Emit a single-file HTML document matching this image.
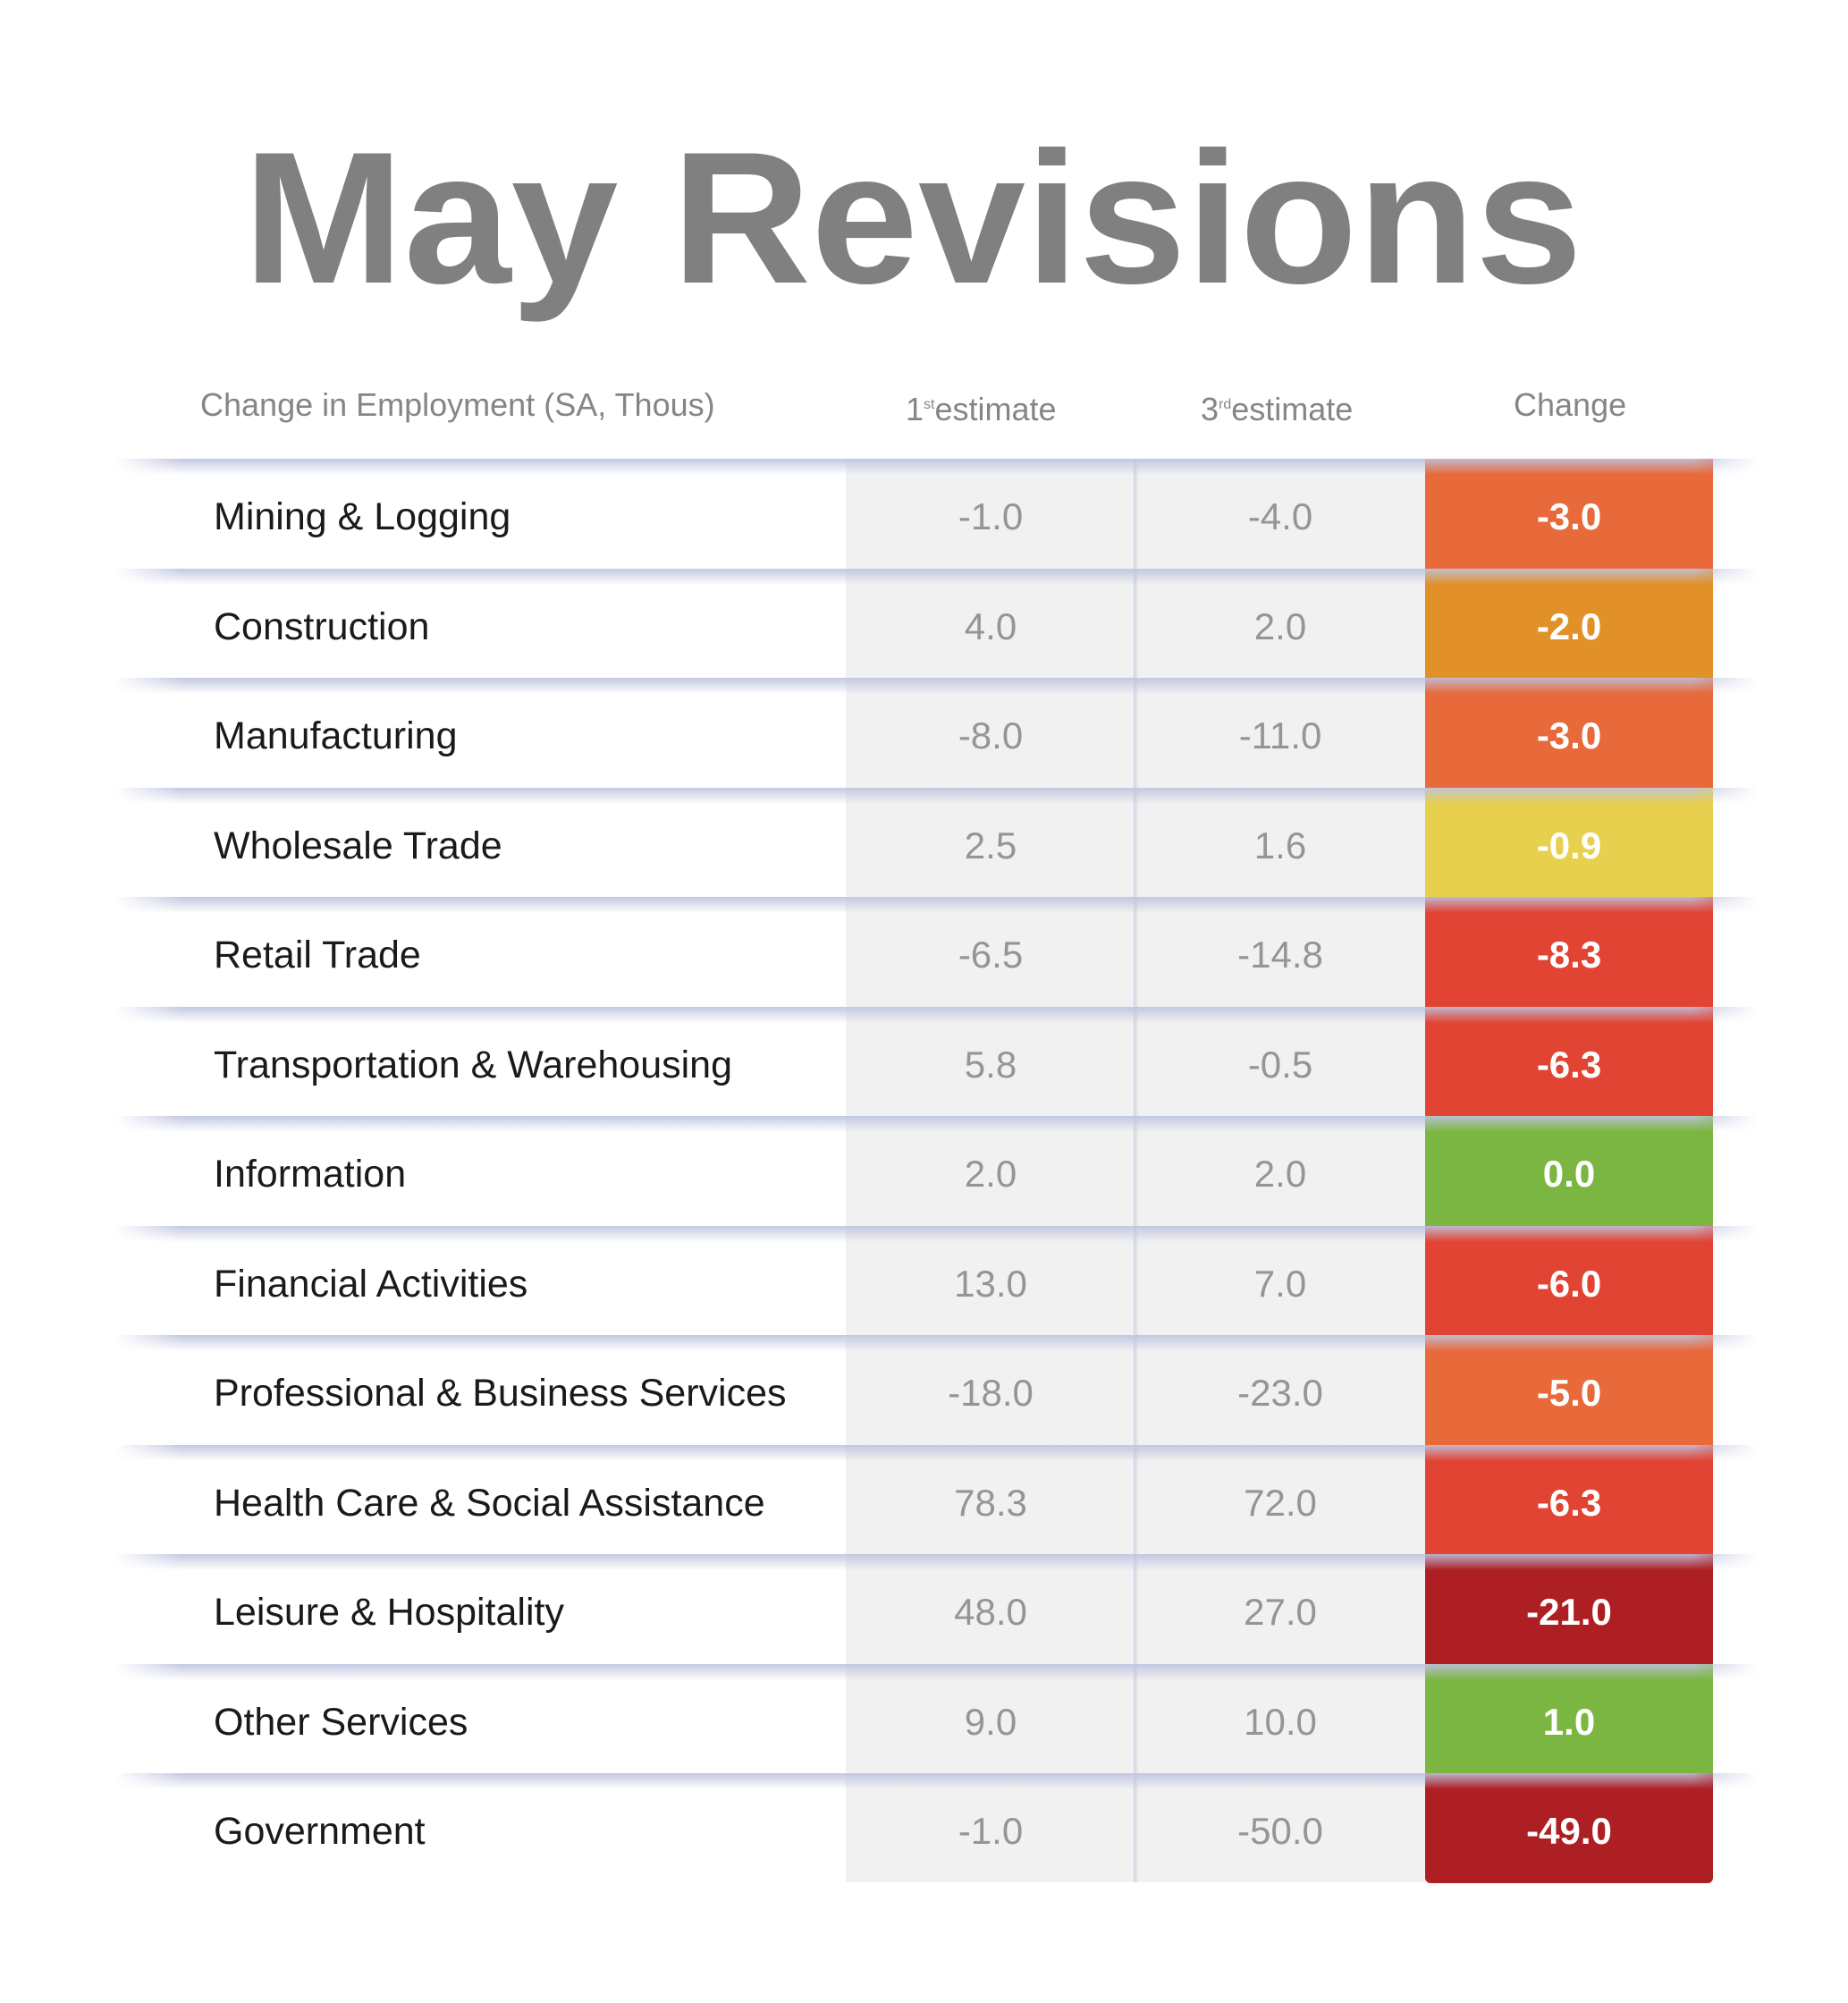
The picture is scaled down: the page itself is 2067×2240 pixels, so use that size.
<!DOCTYPE html>
<html><head><style>
*{margin:0;padding:0;box-sizing:border-box}
body{width:2067px;height:2240px;background:#fff;position:relative;overflow:hidden;font-family:"Liberation Sans",sans-serif}
.bg{position:absolute;top:513px;height:1592px;background:#f1f1f1}
.sep{position:absolute;left:129px;width:1837px;height:18px;background:linear-gradient(rgba(190,195,222,0.9),rgba(215,218,235,0));-webkit-mask-image:linear-gradient(90deg,transparent,#000 4%,#000 96%,transparent);mask-image:linear-gradient(90deg,transparent,#000 4%,#000 96%,transparent)}
.vsep{position:absolute;left:1268px;top:513px;width:6px;height:1592px;background:linear-gradient(90deg,#d0d3e3,rgba(230,232,240,0))}
.row{position:absolute;left:0;width:2067px;height:122.5px}
.lab{position:absolute;left:239px;top:4px;line-height:122.5px;font-size:43px;color:#1a1a1a}
.n{position:absolute;top:4px;line-height:122.5px;font-size:42px;color:#959595;text-align:center;width:300px}
.c{position:absolute;left:1594px;width:322px;height:123px}
.cv{position:absolute;top:4px;line-height:122.5px;font-size:42px;color:#fff;text-align:center;width:322px;left:1594px;font-weight:bold}
.h{position:absolute;top:430px;font-size:36px;color:#858585;line-height:46px}
</style></head><body>
<svg style="position:absolute;left:0;top:0" width="2067" height="400"><text x="272" y="316" font-family="Liberation Sans" font-weight="bold" font-size="210" fill="#808080" textLength="1498" lengthAdjust="spacingAndGlyphs">May Revisions</text></svg>
<div class="h" style="left:224px">Change in Employment (SA, Thous)</div>
<div class="h" style="left:1013px">1<sup style="font-size:16px">st</sup>estimate</div>
<div class="h" style="left:1343px">3<sup style="font-size:16px">rd</sup>estimate</div>
<div class="h" style="left:1693px">Change</div>
<div class="bg" style="left:946px;width:324px"></div>
<div class="bg" style="left:1270px;width:324px"></div>
<div class="vsep"></div>
<div id="rows"></div>
<script>
var d=[["Mining & Logging","-1.0","-4.0","-3.0","#e8693a"],["Construction","4.0","2.0","-2.0","#e29028"],["Manufacturing","-8.0","-11.0","-3.0","#e8693a"],["Wholesale Trade","2.5","1.6","-0.9","#e7d04e"],["Retail Trade","-6.5","-14.8","-8.3","#e24434"],["Transportation & Warehousing","5.8","-0.5","-6.3","#e24434"],["Information","2.0","2.0","0.0","#7cb642"],["Financial Activities","13.0","7.0","-6.0","#e24434"],["Professional & Business Services","-18.0","-23.0","-5.0","#e8693a"],["Health Care & Social Assistance","78.3","72.0","-6.3","#e24434"],["Leisure & Hospitality","48.0","27.0","-21.0","#ae1f24"],["Other Services","9.0","10.0","1.0","#7cb642"],["Government","-1.0","-50.0","-49.0","#ae1f24"]];
var h="";
d.forEach(function(r,i){var t=513+i*122.5;
h+='<div class="c" style="top:'+t+'px;background:'+r[4]+(i==12?';border-radius:0 0 6px 6px':'')+'"></div>';
h+='<div class="sep" style="top:'+t+'px"></div>';
h+='<div class="row" style="top:'+t+'px"><div class="lab">'+r[0].replace("&","&amp;")+'</div><div class="n" style="left:958px">'+r[1]+'</div><div class="n" style="left:1282px">'+r[2]+'</div><div class="cv">'+r[3]+'</div></div>';});
document.getElementById("rows").innerHTML=h;
</script>
</body></html>
